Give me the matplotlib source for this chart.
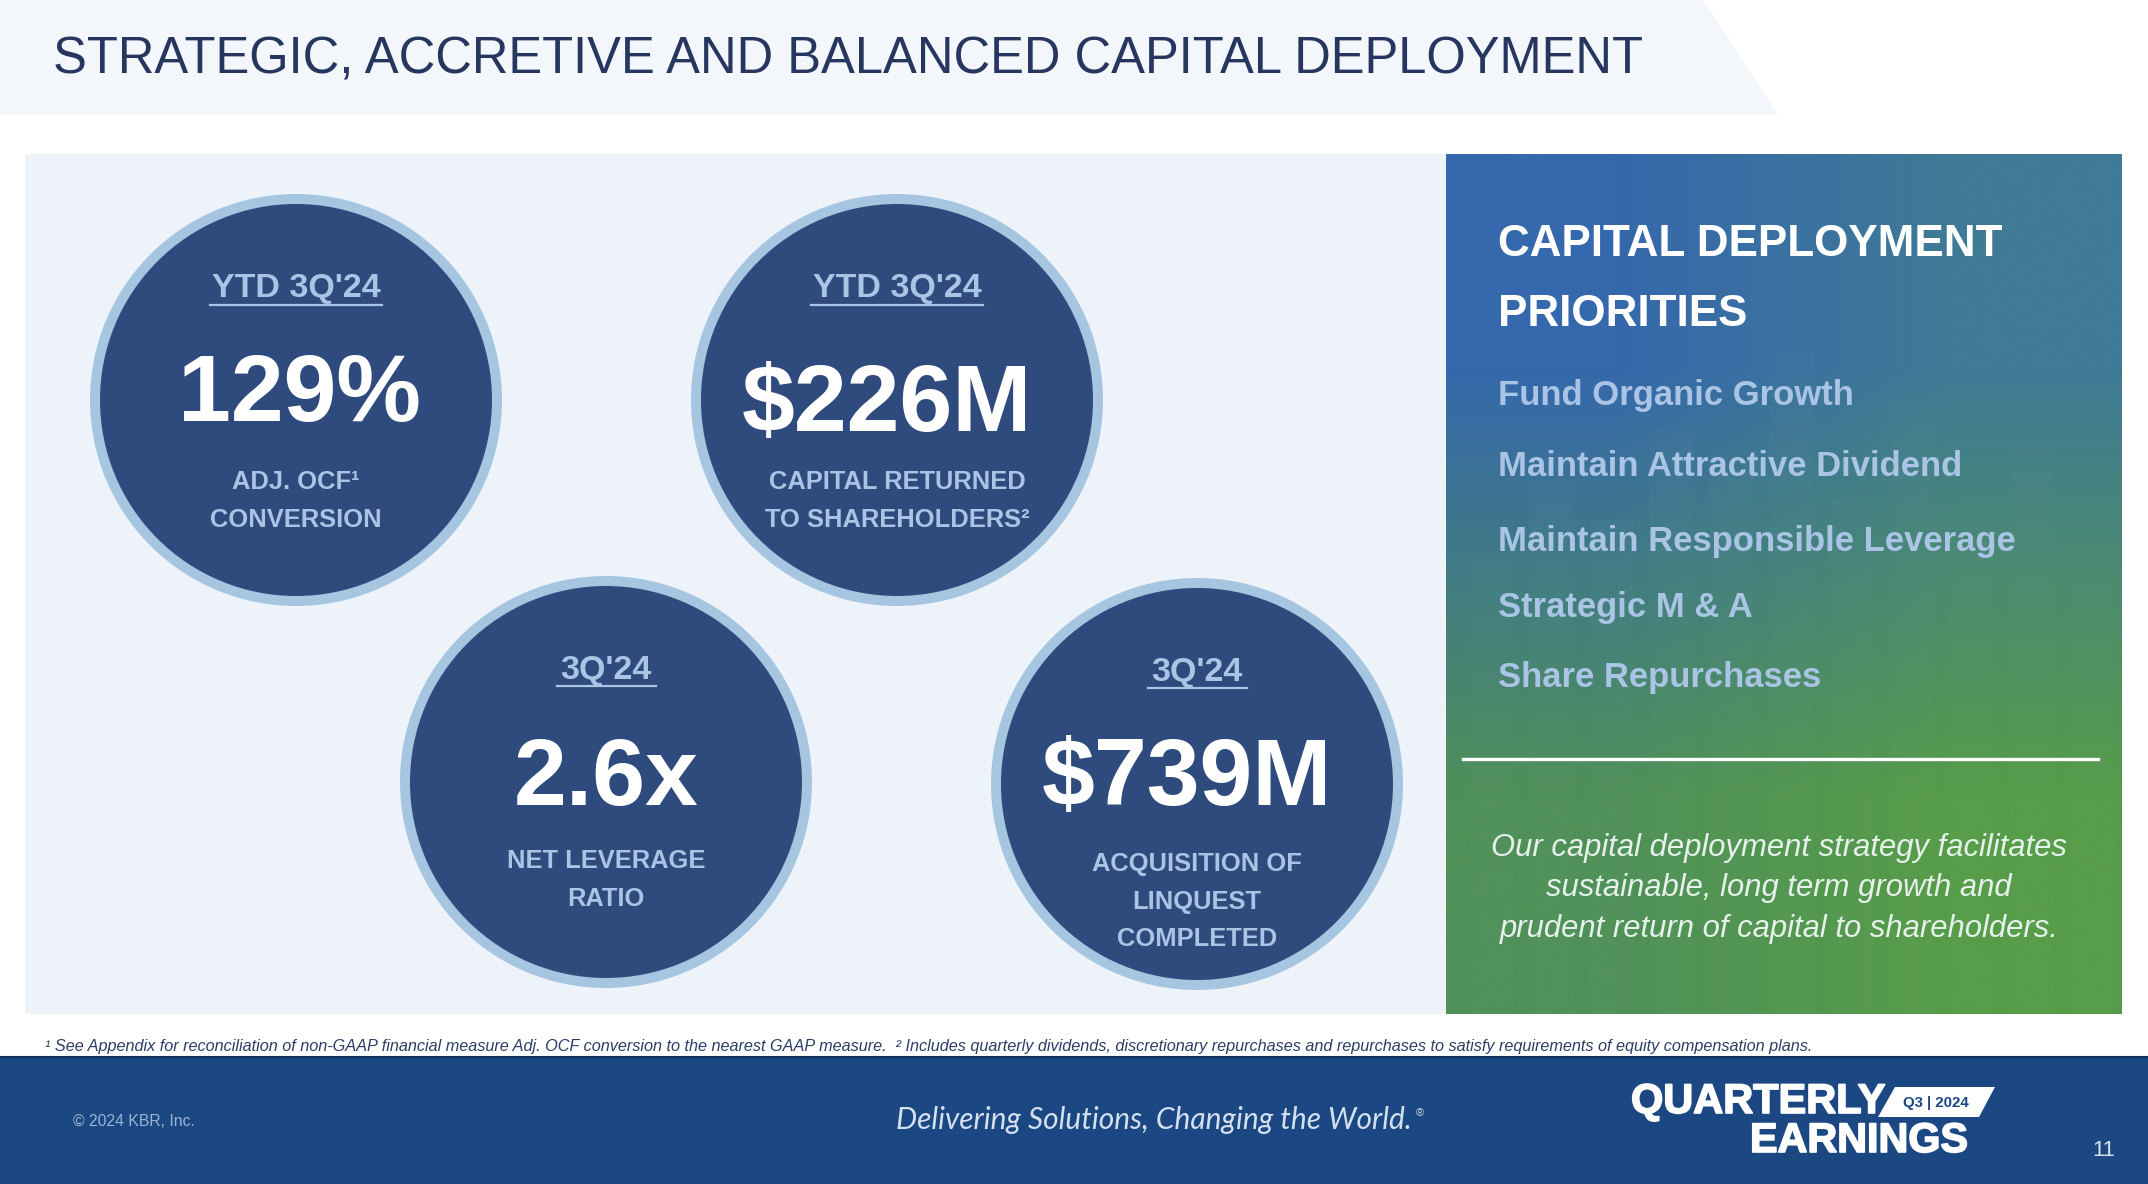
import numpy as np
import matplotlib.pyplot as plt
import matplotlib.patheffects as pe
from matplotlib.colors import to_rgb
from matplotlib.patches import Circle, Polygon, Rectangle

title = "STRATEGIC, ACCRETIVE AND BALANCED CAPITAL DEPLOYMENT"

periods = ["YTD 3Q'24", "YTD 3Q'24", "3Q'24", "3Q'24"]
values = ["129%", "$226M", "2.6x", "$739M"]
captions = [
    ["ADJ. OCF¹", "CONVERSION"],
    ["CAPITAL RETURNED", "TO SHAREHOLDERS²"],
    ["NET LEVERAGE", "RATIO"],
    ["ACQUISITION OF", "LINQUEST", "COMPLETED"],
]

panel_title = ["CAPITAL DEPLOYMENT", "PRIORITIES"]
priorities = [
    "Fund Organic Growth",
    "Maintain Attractive Dividend",
    "Maintain Responsible Leverage",
    "Strategic M & A",
    "Share Repurchases",
]
strategy = [
    "Our capital deployment strategy facilitates",
    "sustainable, long term growth and",
    "prudent return of capital to shareholders.",
]
footnote = ("¹ See Appendix for reconciliation of non-GAAP financial measure Adj. OCF conversion "
            "to the nearest GAAP measure.  ² Includes quarterly dividends, discretionary repurchases "
            "and repurchases to satisfy requirements of equity compensation plans.")

# where things sit on the slide, in pixels
circle_x = [296, 897, 606, 1197]
circle_y = [400, 400, 782, 784]
value_x = [299, 887, 606, 1187]
value_y = [397, 406, 781, 781]
period_y = [289, 289, 670, 672]
underline_y = [305, 305, 686, 688]
underline_w = [172, 172, 99, 99]
caption_y = [[482, 520], [482, 520], [861, 899], [864, 902, 939]]

# faint bars behind the right panel text
bar_x = [1470, 1530, 1590, 1650, 1710, 1770, 1830, 1890, 1950, 2010, 2070]
bar_top = [560, 480, 520, 430, 470, 350, 500, 400, 540, 450, 580]

NAVY = "#2F4A7D"
RING = "#A6C5E0"
PALE = "#A9C4E4"
FOOTER = "#1B4783"

plt.rcParams['font.family'] = ['Liberation Sans', 'DejaVu Sans']


def px(size):
    # font size given in pixels, figure is at 100 dpi
    return size * 0.72


fig = plt.figure(figsize=(21.48, 11.84), dpi=100)
ax = fig.add_axes([0, 0, 1, 1])
ax.set_xlim(0, 2148)
ax.set_ylim(1184, 0)
ax.axis('off')


def txt(x, y, s, size, color='white', ha='center', **kw):
    return ax.text(x, y, s, fontsize=px(size), color=color, ha=ha, va='center', **kw)


# header band
ax.add_patch(Polygon([(0, 0), (1703, 0), (1778, 115), (0, 115)], fc="#F3F6FB", ec='none'))
txt(53, 60, title, 50.7, color="#26365E", ha='left')

# left panel
ax.add_patch(Rectangle((25, 154), 1421, 860, fc="#EEF3FA", ec='none'))

for i in range(4):
    ax.add_patch(Circle((circle_x[i], circle_y[i]), 206, fc=RING, ec='none'))
    ax.add_patch(Circle((circle_x[i], circle_y[i]), 196, fc=NAVY, ec='none'))
    txt(circle_x[i], period_y[i], periods[i], 34, color=PALE, fontweight='bold')
    ax.plot([circle_x[i] - underline_w[i] / 2, circle_x[i] + underline_w[i] / 2],
            [underline_y[i], underline_y[i]], color=PALE, lw=1.6)
    txt(value_x[i], value_y[i], values[i], 95, fontweight='bold')
    for line, y in zip(captions[i], caption_y[i]):
        txt(circle_x[i], y, line, 25.5, color=PALE, fontweight='bold')

# right panel gradient, bilinear between the four corners
corners = np.array([[to_rgb("#3568AC"), to_rgb("#3F7A96")],
                    [to_rgb("#4F9058"), to_rgb("#569C48")]])
ax.imshow(corners, extent=(1446, 2122, 1014, 154), interpolation='bilinear', aspect='auto', zorder=1)
ax.set_xlim(0, 2148)
ax.set_ylim(1184, 0)
for x, top in zip(bar_x, bar_top):
    ax.add_patch(Rectangle((x, top), 44, 1014 - top, fc='white', alpha=0.015, ec='none', zorder=2))

for line, y in zip(panel_title, [245, 314]):
    txt(1498, y, line, 44, ha='left', fontweight='bold', zorder=3)
for line, y in zip(priorities, [396, 467, 541, 608, 677]):
    txt(1498, y, line, 34.6, color=PALE, ha='left', fontweight='bold', zorder=3)
ax.plot([1463, 2098], [759, 759], color='white', lw=2.4, zorder=3)
for line, y in zip(strategy, [848, 888, 929]):
    txt(1779, y, line, 31, color="#E6F1EC", style='italic', zorder=3)

# footnote and footer
txt(45, 1046, footnote, 16.2, color="#2C3E66", ha='left', style='italic')
ax.add_patch(Rectangle((0, 1057), 2148, 127, fc=FOOTER, ec='none'))
ax.plot([0, 2148], [1057, 1057], color="#14305C", lw=1.5)
txt(73, 1122, "© 2024 KBR, Inc.", 15.7, color="#9DB4D4", ha='left')
txt(896, 1120, "Delivering Solutions, Changing the World.", 29.9, color="#D5E0EF", ha='left',
    style='italic', family=['Lato', 'DejaVu Sans'])
txt(1416, 1113, "®", 11, color="#D5E0EF", ha='left')

# quarterly earnings badge
heavy = [pe.withStroke(linewidth=1.2, foreground='white')]
txt(1631, 1102, "QUARTERLY", 41.5, ha='left', fontweight='bold', path_effects=heavy)
ax.add_patch(Polygon([(1878, 1117), (1895, 1087), (1995, 1087), (1979, 1117)], fc='white', ec='none'))
txt(1936, 1103, "Q3 | 2024", 15, color=FOOTER, fontweight='bold')
txt(1750, 1141, "EARNINGS", 41.3, ha='left', fontweight='bold', path_effects=heavy)
txt(2104, 1151, "11", 22, color="#D5E0EF")

fig.savefig("out.png", dpi=100)
